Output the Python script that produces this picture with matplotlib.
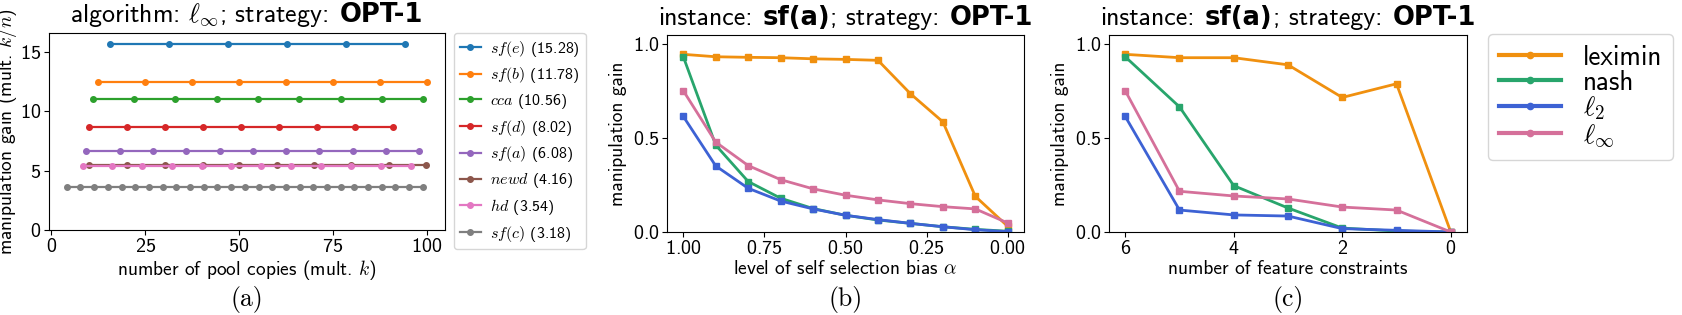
import matplotlib
matplotlib.use("Agg")
import matplotlib.pyplot as plt
from matplotlib.offsetbox import TextArea, HPacker, AnchoredOffsetbox, DrawingArea

plt.rcParams['font.family'] = ['cmss10', 'DejaVu Sans']
plt.rcParams['mathtext.fontset'] = 'cm'
plt.rcParams['axes.formatter.use_mathtext'] = True
plt.rcParams['axes.unicode_minus'] = False

# ---- panel (a): constant gains per instance vs number of pool copies
names_a = ['sf(e)', 'sf(b)', 'cca', 'sf(d)', 'sf(a)', 'newd', 'hd', 'sf(c)']
legend_vals_a = ['15.28', '11.78', '10.56', '8.02', '6.08', '4.16', '3.54', '3.18']
gains_a = [15.7, 12.5, 11.0, 8.66, 6.7, 5.46, 5.38, 3.64]
copies_a = [
    [15.7, 31.4, 47.1, 62.8, 78.5, 94.2],
    [12.5, 25.0, 37.5, 50.0, 62.5, 75.0, 87.5, 100.0],
    [11.0, 22.0, 33.0, 44.0, 55.0, 66.0, 77.0, 88.0, 99.0],
    [10.1, 20.2, 30.3, 40.4, 50.5, 60.6, 70.7, 80.8, 90.9],
    [9.4, 18.2, 27.1, 35.9, 44.8, 53.6, 62.5, 71.3, 80.2, 89.0, 97.9],
    [10.1, 20.2, 30.3, 40.4, 50.1, 60.0, 69.9, 79.9, 89.9, 99.7],
    [8.4, 16.3, 24.2, 32.1, 40.0, 47.9, 55.9, 63.9, 71.9, 79.8, 87.7, 95.6],
    [4.2, 7.8, 11.5, 15.1, 18.8, 22.4, 26.0, 29.7, 33.3, 37.0, 40.6, 44.2, 47.9,
     51.5, 55.2, 58.8, 62.4, 66.1, 69.7, 73.4, 77.0, 80.6, 84.3, 87.9, 91.6, 95.2, 98.8],
]

# ---- panels (b) and (c): algorithms on sf(a)
algos = ['leximin', 'nash', r'$\ell_2$', r'$\ell_\infty$']
algo_colors = ['#f0900f', '#28a56c', '#3d62d4', '#d5709a']

alpha_b = [1.0, 0.9, 0.8, 0.7, 0.6, 0.5, 0.4, 0.3, 0.2, 0.1, 0.0]
gain_b = [
    [0.947, 0.934, 0.931, 0.929, 0.923, 0.920, 0.915, 0.737, 0.587, 0.19, 0.03],
    [0.934, 0.463, 0.269, 0.180, 0.125, 0.089, 0.064, 0.046, 0.028, 0.014, 0.004],
    [0.616, 0.352, 0.233, 0.165, 0.123, 0.089, 0.066, 0.046, 0.028, 0.012, 0.002],
    [0.753, 0.479, 0.354, 0.279, 0.230, 0.196, 0.171, 0.151, 0.135, 0.123, 0.048],
]

constraints_c = [6, 5, 4, 3, 2, 1, 0]
gain_c = [
    [0.947, 0.929, 0.929, 0.891, 0.717, 0.790, 0.0],
    [0.934, 0.667, 0.247, 0.128, 0.021, 0.005, 0.0],
    [0.616, 0.117, 0.091, 0.085, 0.018, 0.009, 0.0],
    [0.753, 0.217, 0.192, 0.176, 0.133, 0.117, 0.0],
]

tab10 = plt.get_cmap('tab10').colors

fig = plt.figure(figsize=(16.82, 3.15), dpi=100)
ax_a = fig.add_axes([0.0291, 0.2698, 0.2355, 0.6254])
ax_b = fig.add_axes([0.3966, 0.2635, 0.2122, 0.6254])
ax_c = fig.add_axes([0.6593, 0.2635, 0.2129, 0.6254])

TITLE_SIZE = 18
LABEL_SIZE = 14


def mixed_title(ax, parts, size=TITLE_SIZE):
    # parts: (text, bold) or a number for a gap (in units of the font size)
    boxes = []
    for p in parts:
        if isinstance(p, (int, float)):
            boxes.append(DrawingArea(p * size, 1))
        else:
            txt, bold = p
            props = dict(fontsize=size)
            if bold:
                props.update(fontweight='bold', family='DejaVu Sans')
            boxes.append(TextArea(txt, textprops=props))
    pack = HPacker(children=boxes, align='baseline', pad=0, sep=0)
    box = AnchoredOffsetbox(loc='lower center', child=pack, pad=0, borderpad=0.3,
                            frameon=False, bbox_to_anchor=(0.5, 1.0),
                            bbox_transform=ax.transAxes)
    ax.add_artist(box)
    return box


# (a)
for i in range(len(names_a)):
    ax_a.plot(copies_a[i], [gains_a[i]] * len(copies_a[i]), '-o', color=tab10[i],
              lw=1.6, ms=4, label=r'$\mathit{' + names_a[i] + '}$ (' + legend_vals_a[i] + ')')
ax_a.set_ylim(0, 16.6)
ax_a.set_xticks([0, 25, 50, 75, 100])
ax_a.set_yticks([0, 5, 10, 15])
ax_a.set_xlabel(r'number of pool copies (mult. $k$)', fontsize=LABEL_SIZE, labelpad=2)
ax_a.set_ylabel(r'manipulation gain (mult. $k/n$)', fontsize=LABEL_SIZE, labelpad=1)
ax_a.legend(loc='upper left', bbox_to_anchor=(1.023, 1.0), fontsize=11.5,
            labelspacing=0.42, borderaxespad=0, handlelength=1.3, handletextpad=0.6,
            borderpad=0.35)

# (b)
for i in range(len(algos)):
    ax_b.plot(alpha_b, gain_b[i], '-s', color=algo_colors[i], lw=2, ms=4.5, label=algos[i])
ax_b.set_xlim(1.05, -0.05)
ax_b.set_ylim(0, 1.05)
ax_b.set_xticks([1.0, 0.75, 0.5, 0.25, 0.0])
ax_b.set_yticks([0.0, 0.5, 1.0])
ax_b.set_xlabel(r'level of self selection bias $\alpha$', fontsize=LABEL_SIZE, labelpad=2)
ax_b.set_ylabel('manipulation gain', fontsize=LABEL_SIZE, labelpad=4)

# (c)
for i in range(len(algos)):
    ax_c.plot(constraints_c, gain_c[i], '-s', color=algo_colors[i], lw=2, ms=4.5, label=algos[i])
ax_c.set_xlim(6.3, -0.3)
ax_c.set_ylim(0, 1.05)
ax_c.set_xticks([6, 4, 2, 0])
ax_c.set_yticks([0.0, 0.5, 1.0])
ax_c.set_xlabel('number of feature constraints', fontsize=LABEL_SIZE, labelpad=2)
ax_c.set_ylabel('manipulation gain', fontsize=LABEL_SIZE, labelpad=4)

for ax in (ax_a, ax_b, ax_c):
    ax.tick_params(labelsize=14.5, pad=2)

title_parts = [
    (ax_a, [(r'algorithm: $\ell_\infty$; strategy:', False), 0.45, ('OPT-1', True)], 347),
    (ax_b, [('instance:', False), 0.4, ('sf(a)', True), ('; strategy:', False), 0.4,
            ('OPT-1', True)], 380),
    (ax_c, [('instance:', False), 0.4, ('sf(a)', True), ('; strategy:', False), 0.4,
            ('OPT-1', True)], 380),
]
title_boxes = [mixed_title(ax, parts) for ax, parts, _ in title_parts]

# scale title / axis-label font sizes so their widths match the reference
fig.canvas.draw()
rend = fig.canvas.get_renderer()
scales = [t / b.get_window_extent(rend).width for (_, _, t), b in zip(title_parts, title_boxes)]
title_size = TITLE_SIZE * sum(scales) / len(scales)
for b in title_boxes:
    b.remove()
for ax, parts, _ in title_parts:
    mixed_title(ax, parts, title_size)

label_targets = [(ax_a.xaxis.label, 246, 'w'), (ax_b.xaxis.label, 228, 'w'),
                 (ax_c.xaxis.label, 247, 'w'), (ax_b.yaxis.label, 145, 'h')]
lscales = []
for lab, t, dim in label_targets:
    ext = lab.get_window_extent(rend)
    lscales.append(t / (ext.width if dim == 'w' else ext.height))
label_size = LABEL_SIZE * sum(lscales) / len(lscales)
for ax in (ax_a, ax_b, ax_c):
    ax.xaxis.label.set_fontsize(label_size)
    ax.yaxis.label.set_fontsize(label_size)

handles, labels = ax_c.get_legend_handles_labels()
leg = fig.legend(handles, labels, loc='upper left', bbox_to_anchor=(0.8847, 0.892),
                 fontsize=19.5, handlelength=2.3, labelspacing=0.0, borderaxespad=0,
                 handletextpad=0.8, borderpad=0.4)
for h in leg.legend_handles:
    h.set_linewidth(3)
    h.set_marker('o')

for ax, lab in ((ax_a, '(a)'), (ax_b, '(b)'), (ax_c, '(c)')):
    pos = ax.get_position()
    fig.text((pos.x0 + pos.x1) / 2, 0.03, lab, family='cmr10', fontsize=18.5,
             ha='center', va='baseline')

fig.savefig('out.png', dpi=100)
